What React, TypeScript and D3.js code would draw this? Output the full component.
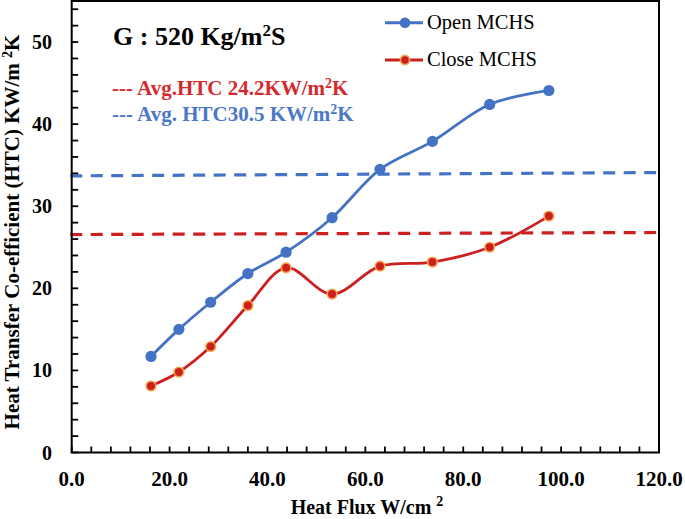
import React from "react";
import * as d3 from "d3";

// Heat flux (W/cm²) at each measured point
const heatFlux = [16.2, 21.9, 28.4, 36.0, 43.8, 53.2, 63.0, 73.7, 85.4, 97.5];
// Heat transfer coefficient (KW/m²K)
const openMCHS = [11.7, 15.0, 18.3, 21.8, 24.4, 28.6, 34.5, 37.9, 42.4, 44.1];
const closeMCHS = [8.1, 9.8, 12.9, 17.9, 22.5, 19.3, 22.7, 23.2, 25.0, 28.8];

// Average reference lines: [value at x=0, value at x=120]
const avgOpenLine = [33.7, 34.1];
const avgCloseLine = [26.55, 26.8];

const xTickValues = [0, 20, 40, 60, 80, 100, 120];
const yTickValues = [0, 10, 20, 30, 40, 50];

const W = 685;
const H = 519;
const FONT = "'Liberation Serif', 'Times New Roman', serif";

const BLUE = "#4472C4";
const RED = "#CC2020";
const RED_TEXT = "#D42A2E";
const BLUE_TEXT = "#4A78C8";
const ORANGE = "#F5A54A";

// raised, smaller "2" followed by text back on the baseline
function Sup({ size, rise, after }: { size: number; rise: number; after?: string }) {
  return (
    <>
      <tspan dy={-rise} fontSize={size}>
        2
      </tspan>
      {after ? <tspan dy={rise}>{after}</tspan> : null}
    </>
  );
}

export default function App() {
  const x = d3.scaleLinear().domain([0, 120]).range([71.7, 659]);
  const y = d3.scaleLinear().domain([0, 55]).range([452.5, 1]);

  const line = d3
    .line<[number, number]>()
    .x((d) => x(d[0]))
    .y((d) => y(d[1]))
    .curve(d3.curveCatmullRom.alpha(0.5));

  const openPts = heatFlux.map((h, i) => [h, openMCHS[i]] as [number, number]);
  const closePts = heatFlux.map((h, i) => [h, closeMCHS[i]] as [number, number]);

  const minorY = d3.range(0, 55, 2);
  const minorX = d3.range(0, 121, 4);

  const [x0, x1] = x.range();
  const [yb, yt] = y.range();

  return (
    <svg
      width={W}
      height={H}
      style={{ position: "absolute", left: 0, top: 0, background: "#fff" }}
      fontFamily={FONT}
    >
      {/* average HTC dashed lines */}
      <line
        x1={x(0) - 1.5}
        x2={x(120)}
        y1={y(avgCloseLine[0])}
        y2={y(avgCloseLine[1])}
        stroke={RED}
        strokeWidth={3.2}
        strokeDasharray="12,8.5"
      />
      <line
        x1={x(0) - 1.5}
        x2={x(120)}
        y1={y(avgOpenLine[0])}
        y2={y(avgOpenLine[1])}
        stroke={BLUE}
        strokeWidth={3.2}
        strokeDasharray="12,8.5"
      />

      {/* series */}
      <path d={line(openPts) || ""} fill="none" stroke={BLUE} strokeWidth={2.8} />
      <path d={line(closePts) || ""} fill="none" stroke={RED} strokeWidth={2.8} />
      {openPts.map((p, i) => (
        <circle key={`o${i}`} cx={x(p[0])} cy={y(p[1])} r={5.6} fill={BLUE} />
      ))}
      {closePts.map((p, i) => (
        <circle
          key={`c${i}`}
          cx={x(p[0])}
          cy={y(p[1])}
          r={4.8}
          fill={RED}
          stroke={ORANGE}
          strokeWidth={1.6}
        />
      ))}

      {/* frame */}
      <rect x={x0} y={yt} width={x1 - x0} height={yb - yt} fill="none" stroke="#000" strokeWidth={2} />

      {/* inward ticks */}
      {minorY.map((v) => (
        <line key={`ty${v}`} x1={x0} x2={x0 + 6.5} y1={y(v)} y2={y(v)} stroke="#000" strokeWidth={1.8} />
      ))}
      {minorX.map((v) => (
        <line key={`tx${v}`} x1={x(v)} x2={x(v)} y1={yb} y2={yb - 6} stroke="#000" strokeWidth={1.8} />
      ))}

      {/* tick labels */}
      {yTickValues.map((v) => (
        <text
          key={`ly${v}`}
          x={52}
          y={y(v) + 7}
          textAnchor="end"
          fontSize={20}
          fontWeight="bold"
        >
          {v}
        </text>
      ))}
      {xTickValues.map((v) => (
        <text
          key={`lx${v}`}
          x={x(v)}
          y={486}
          textAnchor="middle"
          fontSize={21}
          fontWeight="bold"
        >
          {v.toFixed(1)}
        </text>
      ))}

      {/* axis titles */}
      <text x={367} y={514} textAnchor="middle" fontSize={20} fontWeight="bold">
        Heat Flux W/cm <Sup size={14} rise={8} />
      </text>
      <text
        transform="translate(19,232) rotate(-90)"
        textAnchor="middle"
        fontSize={21}
        fontWeight="bold"
      >
        Heat Transfer Co-efficient (HTC) KW/m <Sup size={14} rise={7} after="K" />
      </text>

      {/* annotations */}
      <text x={113} y={45} fontSize={26} fontWeight="bold">
        G : 520 Kg/m<Sup size={17} rise={9} after="S" />
      </text>
      <text x={112} y={95} fontSize={21} fontWeight="bold" fill={RED_TEXT}>
        --- Avg.HTC 24.2KW/m<Sup size={14} rise={7} after="K" />
      </text>
      <text x={112} y={121} fontSize={21} fontWeight="bold" fill={BLUE_TEXT}>
        --- Avg. HTC30.5 KW/m<Sup size={14} rise={7} after="K" />
      </text>

      {/* legend */}
      <line x1={385} x2={423} y1={22.7} y2={22.7} stroke={BLUE} strokeWidth={3} />
      <circle cx={405} cy={22.7} r={5.3} fill={BLUE} />
      <text x={427} y={28.5} fontSize={20.5}>
        Open MCHS
      </text>
      <line x1={385} x2={423} y1={60} y2={60} stroke={RED} strokeWidth={3} />
      <circle cx={405} cy={60} r={4.6} fill={RED} stroke={ORANGE} strokeWidth={1.6} />
      <text x={427} y={65.8} fontSize={20.5}>
        Close MCHS
      </text>
    </svg>
  );
}
